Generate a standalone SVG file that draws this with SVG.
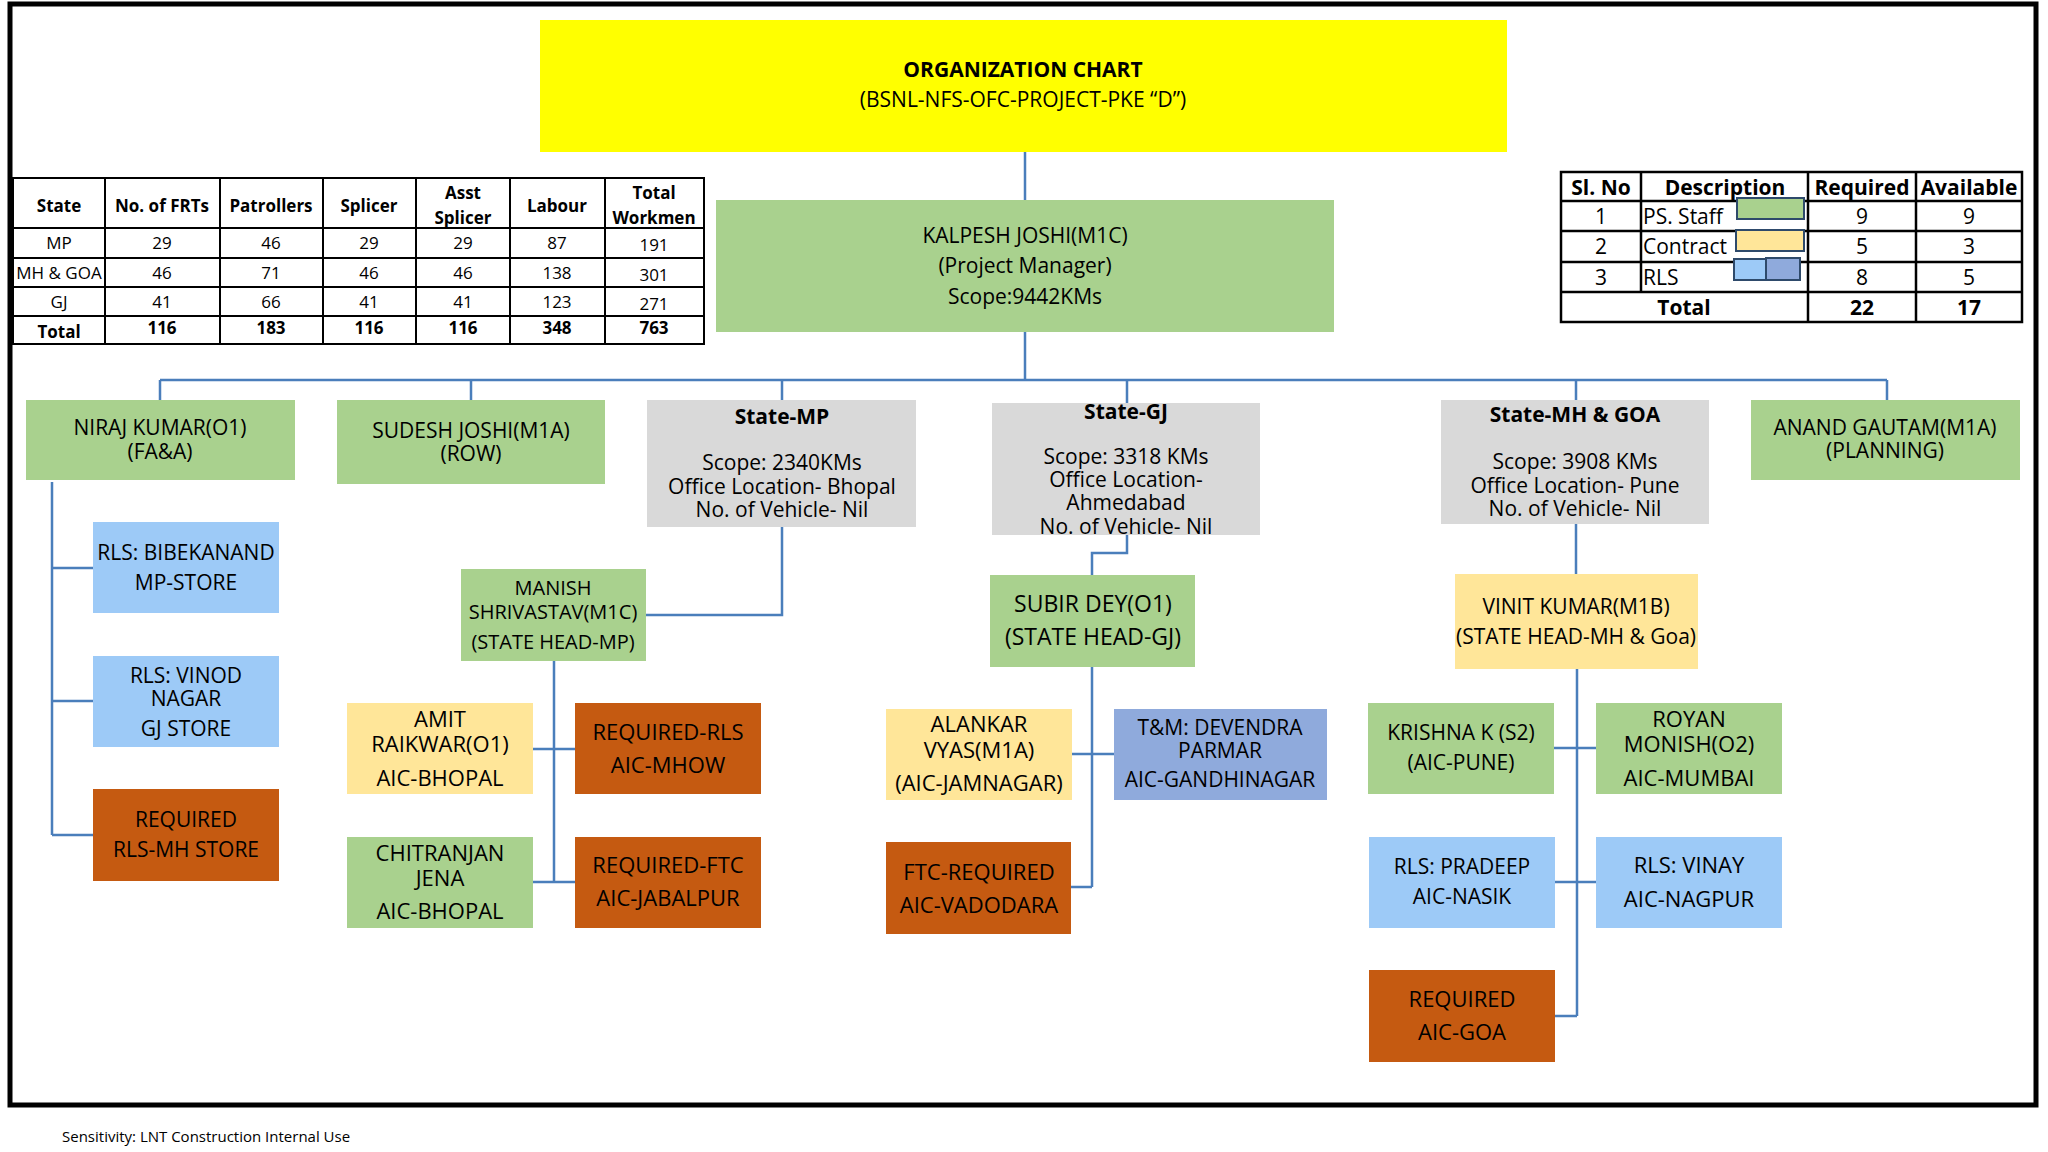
<svg xmlns="http://www.w3.org/2000/svg" width="2048" height="1152" viewBox="0 0 2048 1152">
<style>
text{font-family:"Open Sans","Noto Sans","DejaVu Sans",sans-serif;fill:#000;text-anchor:middle}
.b{font-weight:bold}
.green{fill:#A9D18E}
.gray{fill:#D9D9D9}
.yel{fill:#FFE699}
.lb{fill:#9DCAF7}
.db{fill:#8FAADC}
.org{fill:#C55A11}
.conn{fill:none;stroke:#4A7EBB;stroke-width:2.5}
.tl{stroke:#000;stroke-width:2;fill:none}
.t20{font-size:20px}
.t21{font-size:21px}
.t22{font-size:22px}
.t23{font-size:23px}
.t17{font-size:17px}
</style>
<rect x="0" y="0" width="2048" height="1152" fill="#fff"/>
<rect x="10" y="4" width="2026" height="1101" fill="none" stroke="#000" stroke-width="5"/>
<text x="62" y="1142" style="font-size:15px;text-anchor:start">Sensitivity: LNT Construction Internal Use</text>

<g id="connectors">
<path class="conn" d="M1025 152V200"/>
<path class="conn" d="M1025 332V380"/>
<path class="conn" d="M160 380H1887"/>
<path class="conn" d="M160 380V400M471 380V400M782 380V400M1127 380V403M1576 380V400M1887 380V400"/>
<path class="conn" d="M52 482V835M52 568H93M52 701H93M52 835H93"/>
<path class="conn" d="M782 527V615H646"/>
<path class="conn" d="M554 661V882M533 749H575M533 882H575"/>
<path class="conn" d="M1127 535V553H1092V575"/>
<path class="conn" d="M1092 667V887M1072 754H1114M1071 887H1092"/>
<path class="conn" d="M1576 524V574"/>
<path class="conn" d="M1577 669V1016M1554 748H1596M1555 882H1596M1555 1016H1577"/>
</g>

<g id="title">
<rect x="540" y="20" width="967" height="132" fill="#FFFF00"/>
<text x="1023" y="77" class="t21 b">ORGANIZATION CHART</text>
<text x="1023" y="107" class="t21">(BSNL-NFS-OFC-PROJECT-PKE “D”)</text>
</g>

<g id="kalpesh">
<rect x="716" y="200" width="618" height="132" class="green"/>
<text x="1025" y="243" class="t21">KALPESH JOSHI(M1C)</text>
<text x="1025" y="273" class="t21">(Project Manager)</text>
<text x="1025" y="304" class="t21">Scope:9442KMs</text>
</g>

<g id="niraj">
<rect x="26" y="400" width="269" height="80" class="green"/>
<text x="160" y="435" class="t21">NIRAJ KUMAR(O1)</text>
<text x="160" y="459" class="t21">(FA&amp;A)</text>
</g>
<g id="sudesh">
<rect x="337" y="400" width="268" height="84" class="green"/>
<text x="471" y="438" class="t21">SUDESH JOSHI(M1A)</text>
<text x="471" y="461" class="t21">(ROW)</text>
</g>
<g id="state-mp">
<rect x="647" y="400" width="269" height="127" class="gray"/>
<text x="782" y="424" class="t21 b">State-MP</text>
<text x="782" y="470" class="t21">Scope: 2340KMs</text>
<text x="782" y="494" class="t21">Office Location- Bhopal</text>
<text x="782" y="517" class="t21">No. of Vehicle- Nil</text>
</g>
<g id="state-gj">
<rect x="992" y="403" width="268" height="132" class="gray"/>
<text x="1126" y="419" class="t21 b">State-GJ</text>
<text x="1126" y="464" class="t21">Scope: 3318 KMs</text>
<text x="1126" y="487" class="t21">Office Location-</text>
<text x="1126" y="510" class="t21">Ahmedabad</text>
<text x="1126" y="534" class="t21">No. of Vehicle- Nil</text>
</g>
<g id="state-mh">
<rect x="1441" y="400" width="268" height="124" class="gray"/>
<text x="1575" y="422" class="t21 b">State-MH &amp; GOA</text>
<text x="1575" y="469" class="t21">Scope: 3908 KMs</text>
<text x="1575" y="493" class="t21">Office Location- Pune</text>
<text x="1575" y="516" class="t21">No. of Vehicle- Nil</text>
</g>
<g id="anand">
<rect x="1751" y="400" width="269" height="80" class="green"/>
<text x="1885" y="435" class="t21">ANAND GAUTAM(M1A)</text>
<text x="1885" y="458" class="t21">(PLANNING)</text>
</g>

<g id="rls-bibekanand">
<rect x="93" y="522" width="186" height="91" class="lb"/>
<text x="186" y="560" class="t21">RLS: BIBEKANAND</text>
<text x="186" y="590" class="t21">MP-STORE</text>
</g>
<g id="rls-vinod">
<rect x="93" y="656" width="186" height="91" class="lb"/>
<text x="186" y="683" class="t21">RLS: VINOD</text>
<text x="186" y="706" class="t21">NAGAR</text>
<text x="186" y="736" class="t21">GJ STORE</text>
</g>
<g id="req-rls-mh">
<rect x="93" y="789" width="186" height="92" class="org"/>
<text x="186" y="827" class="t21">REQUIRED</text>
<text x="186" y="857" class="t21">RLS-MH STORE</text>
</g>

<g id="manish">
<rect x="461" y="569" width="185" height="92" class="green"/>
<text x="553" y="595" class="t20">MANISH</text>
<text x="553" y="619" class="t20">SHRIVASTAV(M1C)</text>
<text x="553" y="649" class="t20">(STATE HEAD-MP)</text>
</g>
<g id="amit">
<rect x="347" y="703" width="186" height="91" class="yel"/>
<text x="440" y="727" class="t22">AMIT</text>
<text x="440" y="752" class="t22">RAIKWAR(O1)</text>
<text x="440" y="786" class="t22">AIC-BHOPAL</text>
</g>
<g id="req-rls-mhow">
<rect x="575" y="703" width="186" height="91" class="org"/>
<text x="668" y="740" class="t22">REQUIRED-RLS</text>
<text x="668" y="773" class="t22">AIC-MHOW</text>
</g>
<g id="chitranjan">
<rect x="347" y="837" width="186" height="91" class="green"/>
<text x="440" y="861" class="t22">CHITRANJAN</text>
<text x="440" y="886" class="t22">JENA</text>
<text x="440" y="919" class="t22">AIC-BHOPAL</text>
</g>
<g id="req-ftc-jabalpur">
<rect x="575" y="837" width="186" height="91" class="org"/>
<text x="668" y="873" class="t22">REQUIRED-FTC</text>
<text x="668" y="906" class="t22">AIC-JABALPUR</text>
</g>

<g id="subir">
<rect x="990" y="575" width="205" height="92" class="green"/>
<text x="1093" y="612" class="t23">SUBIR DEY(O1)</text>
<text x="1093" y="645" class="t23">(STATE HEAD-GJ)</text>
</g>
<g id="alankar">
<rect x="886" y="709" width="186" height="91" class="yel"/>
<text x="979" y="732" class="t22">ALANKAR</text>
<text x="979" y="758" class="t22">VYAS(M1A)</text>
<text x="979" y="791" class="t22">(AIC-JAMNAGAR)</text>
</g>
<g id="devendra">
<rect x="1114" y="709" width="213" height="91" class="db"/>
<text x="1220" y="735" class="t21">T&amp;M: DEVENDRA</text>
<text x="1220" y="758" class="t21">PARMAR</text>
<text x="1220" y="787" class="t21">AIC-GANDHINAGAR</text>
</g>
<g id="ftc-vadodara">
<rect x="886" y="842" width="185" height="92" class="org"/>
<text x="979" y="880" class="t22">FTC-REQUIRED</text>
<text x="979" y="913" class="t22">AIC-VADODARA</text>
</g>

<g id="vinit">
<rect x="1455" y="574" width="243" height="95" class="yel"/>
<text x="1576" y="614" class="t21">VINIT KUMAR(M1B)</text>
<text x="1576" y="644" class="t21">(STATE HEAD-MH &amp; Goa)</text>
</g>
<g id="krishna">
<rect x="1368" y="703" width="186" height="91" class="green"/>
<text x="1461" y="740" class="t21">KRISHNA K (S2)</text>
<text x="1461" y="770" class="t21">(AIC-PUNE)</text>
</g>
<g id="royan">
<rect x="1596" y="703" width="186" height="91" class="green"/>
<text x="1689" y="727" class="t22">ROYAN</text>
<text x="1689" y="752" class="t22">MONISH(O2)</text>
<text x="1689" y="786" class="t22">AIC-MUMBAI</text>
</g>
<g id="rls-pradeep">
<rect x="1369" y="837" width="186" height="91" class="lb"/>
<text x="1462" y="874" class="t21">RLS: PRADEEP</text>
<text x="1462" y="904" class="t21">AIC-NASIK</text>
</g>
<g id="rls-vinay">
<rect x="1596" y="837" width="186" height="91" class="lb"/>
<text x="1689" y="873" class="t22">RLS: VINAY</text>
<text x="1689" y="907" class="t22">AIC-NAGPUR</text>
</g>
<g id="req-goa">
<rect x="1369" y="970" width="186" height="92" class="org"/>
<text x="1462" y="1007" class="t22">REQUIRED</text>
<text x="1462" y="1040" class="t22">AIC-GOA</text>
</g>

<g id="workmen-table">
<rect x="13" y="178" width="691" height="166" fill="#fff" class="tl"/>
<path class="tl" d="M105 178V344M220 178V344M323 178V344M416 178V344M510 178V344M605 178V344"/>
<path class="tl" d="M13 228H704M13 258H704M13 287H704M13 316H704"/>
<g class="t17 b">
<text x="59" y="212">State</text>
<text x="162" y="212">No. of FRTs</text>
<text x="271" y="212">Patrollers</text>
<text x="369" y="212">Splicer</text>
<text x="463" y="199">Asst</text>
<text x="463" y="224">Splicer</text>
<text x="557" y="212">Labour</text>
<text x="654" y="199">Total</text>
<text x="654" y="224">Workmen</text>
</g>
<g class="t17">
<text x="59" y="249">MP</text><text x="162" y="249">29</text><text x="271" y="249">46</text><text x="369" y="249">29</text><text x="463" y="249">29</text><text x="557" y="249">87</text><text x="654" y="251">191</text>
<text x="59" y="279">MH &amp; GOA</text><text x="162" y="279">46</text><text x="271" y="279">71</text><text x="369" y="279">46</text><text x="463" y="279">46</text><text x="557" y="279">138</text><text x="654" y="281">301</text>
<text x="59" y="308">GJ</text><text x="162" y="308">41</text><text x="271" y="308">66</text><text x="369" y="308">41</text><text x="463" y="308">41</text><text x="557" y="308">123</text><text x="654" y="310">271</text>
</g>
<g class="t17 b">
<text x="59" y="338">Total</text><text x="162" y="334">116</text><text x="271" y="334">183</text><text x="369" y="334">116</text><text x="463" y="334">116</text><text x="557" y="334">348</text><text x="654" y="334">763</text>
</g>
</g>

<g id="staff-table">
<rect x="1561" y="172" width="461" height="150" fill="#fff" stroke="#000" stroke-width="2.5"/>
<path d="M1641 172V292M1808 172V322M1916 172V322M1561 201H2022M1561 231H2022M1561 262H2022M1561 292H2022" stroke="#000" stroke-width="2.5" fill="none"/>
<g class="t21 b">
<text x="1601" y="195">Sl. No</text>
<text x="1725" y="195">Description</text>
<text x="1862" y="195">Required</text>
<text x="1969" y="195">Available</text>
</g>
<g class="t21">
<text x="1601" y="224">1</text><text x="1643" y="224" style="text-anchor:start">PS. Staff</text><text x="1862" y="224">9</text><text x="1969" y="224">9</text>
<text x="1601" y="254">2</text><text x="1643" y="254" style="text-anchor:start">Contract</text><text x="1862" y="254">5</text><text x="1969" y="254">3</text>
<text x="1601" y="285">3</text><text x="1643" y="285" style="text-anchor:start">RLS</text><text x="1862" y="285">8</text><text x="1969" y="285">5</text>
</g>
<g class="t21 b">
<text x="1684" y="315">Total</text><text x="1862" y="315">22</text><text x="1969" y="315">17</text>
</g>
<rect x="1737" y="198" width="67" height="21" class="green" stroke="#2E4A6B" stroke-width="2"/>
<rect x="1736" y="230" width="68" height="21" class="yel" stroke="#2E4A6B" stroke-width="2"/>
<rect x="1734" y="259" width="34" height="21" class="lb" stroke="#2E4A6B" stroke-width="2"/>
<rect x="1766" y="258" width="34" height="22" class="db" stroke="#2E4A6B" stroke-width="2"/>
</g>
</svg>
